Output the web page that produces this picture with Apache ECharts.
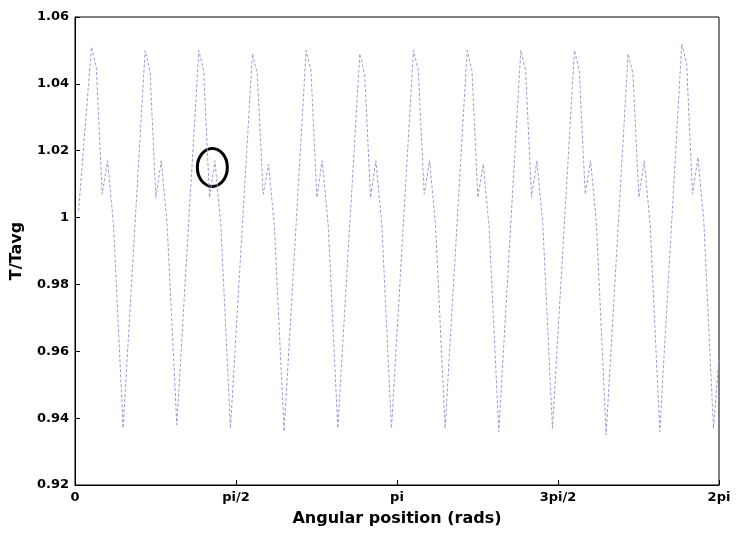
<!DOCTYPE html>
<html>
<head>
<meta charset="utf-8">
<script src="https://cdn.jsdelivr.net/npm/echarts@6/dist/echarts.min.js"></script>
<style>html,body{margin:0;padding:0;background:#fff}#chart{width:737px;height:534px}</style>
</head>
<body>
<div id="chart"></div>
<script>
// per-cycle values (12 cycles over 0..2pi)
const peakVals   = [1.051, 1.050, 1.050, 1.049, 1.050, 1.049, 1.050, 1.050, 1.050, 1.050, 1.049, 1.052];
const shoulderVals = [1.045, 1.044, 1.044, 1.043, 1.044, 1.043, 1.044, 1.044, 1.044, 1.044, 1.043, 1.046];
const dipVals    = [1.007, 1.006, 1.006, 1.007, 1.006, 1.006, 1.007, 1.006, 1.006, 1.007, 1.006, 1.007];
const bumpVals   = [1.017, 1.017, 1.017, 1.016, 1.017, 1.017, 1.017, 1.016, 1.017, 1.017, 1.017, 1.018];
const fallVals   = [0.998, 0.998, 0.998, 0.997, 0.998, 0.998, 0.998, 0.997, 0.998, 0.998, 0.998, 0.999];
const troughVals = [0.937, 0.938, 0.937, 0.936, 0.937, 0.937, 0.937, 0.936, 0.937, 0.935, 0.936, 0.937];
const startVal = 1.002;
const endVal = 0.958;
// fraction of a cycle where each feature sits
const phase = { peak: 0.24, shoulder: 0.33, dip: 0.44, bump: 0.54, fall: 0.65, trough: 0.83 };
const xTickLabels = { 0: '0', 1: 'pi/2', 2: 'pi', 3: '3pi/2', 4: '2pi' };

const cycle = 2 * Math.PI / 12;
const data = [[0.035, startVal]];
for (let k = 0; k < 12; k++) {
  const s = 0.035 + k * cycle;
  data.push([s + phase.peak * cycle, peakVals[k]]);
  data.push([s + phase.shoulder * cycle, shoulderVals[k]]);
  data.push([s + phase.dip * cycle, dipVals[k]]);
  data.push([s + phase.bump * cycle, bumpVals[k]]);
  data.push([s + phase.fall * cycle, fallVals[k]]);
  data.push([s + phase.trough * cycle, troughVals[k]]);
}
data.push([2 * Math.PI, endVal]);

const chart = echarts.init(document.getElementById('chart'));
const font = 'DejaVu Sans';
chart.setOption({
  animation: false,
  grid: { left: 75, right: 18, top: 17, bottom: 49, show: true, borderColor: '#000', borderWidth: 1 },
  xAxis: {
    type: 'value', min: 0, max: 2 * Math.PI, interval: Math.PI / 2,
    name: 'Angular position (rads)', nameLocation: 'middle', nameGap: 26,
    nameTextStyle: { fontFamily: font, fontWeight: 'bold', fontSize: 16, color: '#000' },
    axisLine: { show: true, lineStyle: { color: '#000' } },
    axisTick: { inside: true, length: 5, lineStyle: { color: '#000' } },
    splitLine: { show: false },
    axisLabel: {
      fontFamily: font, fontWeight: 'bold', fontSize: 13, color: '#000', margin: 6,
      formatter: v => xTickLabels[Math.round(v / (Math.PI / 2))] || ''
    }
  },
  yAxis: {
    type: 'value', min: 0.92, max: 1.06, interval: 0.02,
    name: 'T/Tavg', nameLocation: 'middle', nameGap: 50,
    nameTextStyle: { fontFamily: font, fontWeight: 'bold', fontSize: 16, color: '#000' },
    axisLine: { show: true, lineStyle: { color: '#000' } },
    axisTick: { inside: true, length: 5, lineStyle: { color: '#000' } },
    splitLine: { show: false },
    axisLabel: {
      fontFamily: font, fontWeight: 'bold', fontSize: 13, color: '#000', margin: 6,
      formatter: v => String(parseFloat(v.toFixed(2)))
    }
  },
  series: [{
    type: 'line', data: data, symbol: 'none',
    lineStyle: { color: '#9a9ad6', width: 1, type: [3, 2] }
  }]
});
const c = chart.convertToPixel({ gridIndex: 0 }, [1.34, 1.015]);
chart.setOption({
  graphic: [{
    type: 'ellipse', shape: { cx: c[0], cy: c[1], rx: 15, ry: 19 },
    style: { fill: 'none', stroke: '#000', lineWidth: 3 }
  }]
});
</script>
</body>
</html>
